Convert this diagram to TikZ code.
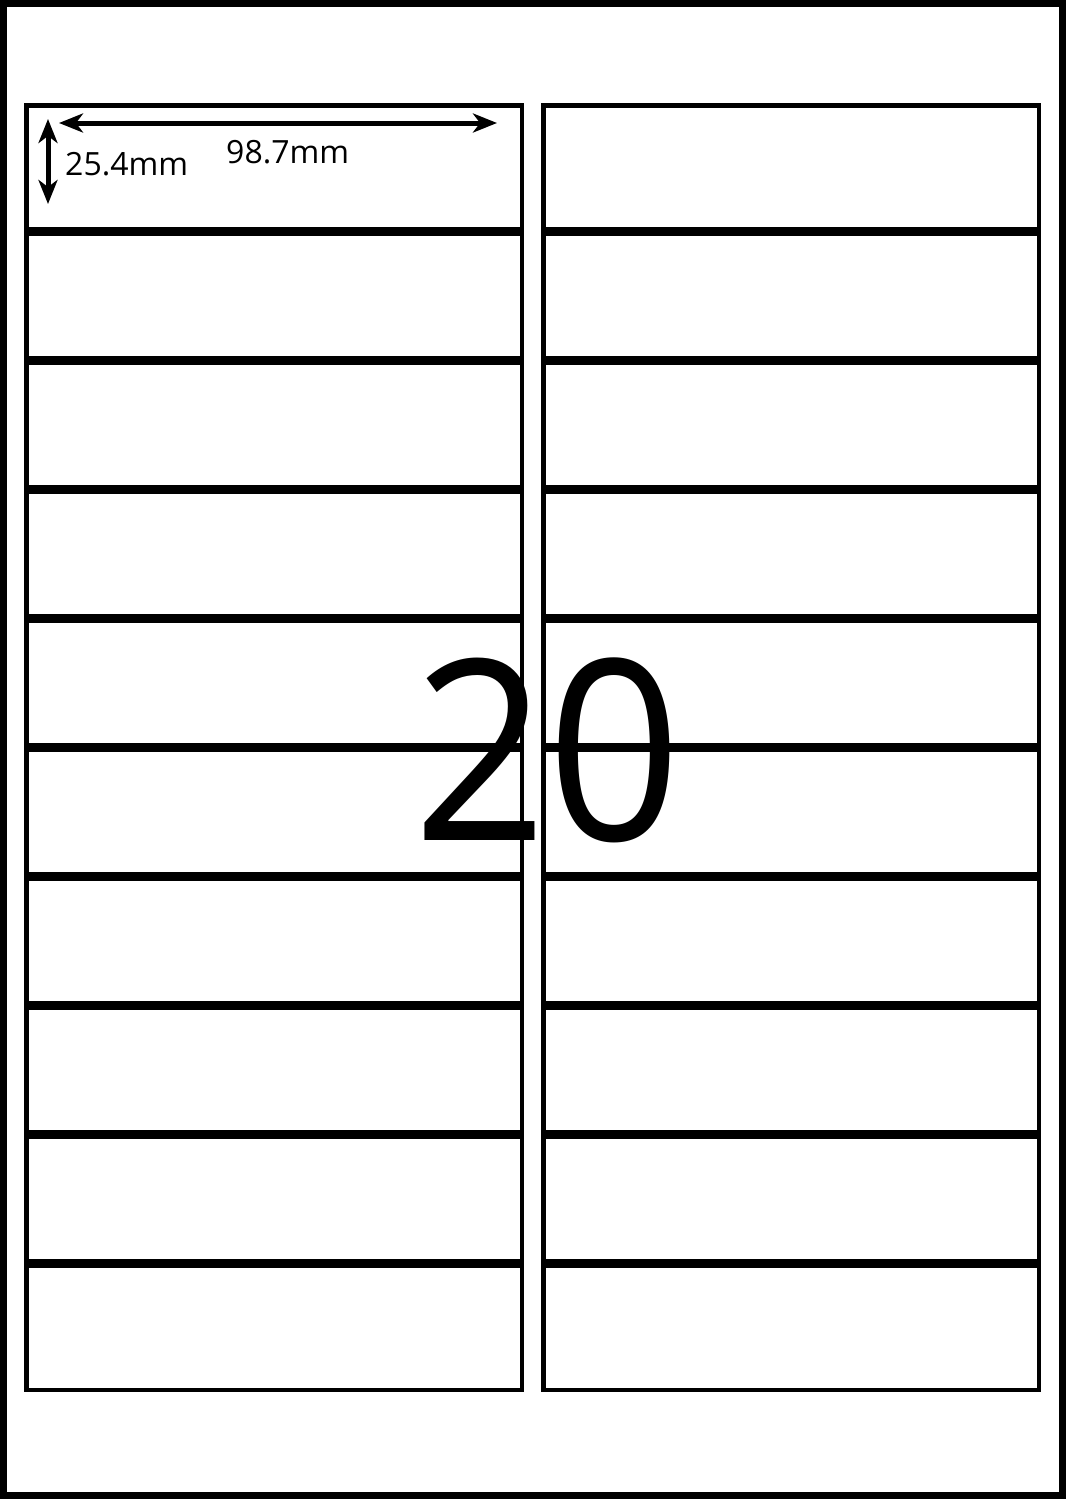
\documentclass[tikz,border=0pt]{standalone}
\usepackage{fontspec}
\setmainfont{Open Sans}
\usetikzlibrary{arrows.meta}
\begin{document}
\begin{tikzpicture}[x=1pt,y=-1pt,
  labelbox/.style={draw=black,line width=4.5pt,rectangle,inner sep=0pt,
    minimum width=495.5pt,minimum height=124.4pt},
  dimtip/.style={Stealth[length=24pt,width=19pt,inset=7pt]},
  dimarrow/.style={line width=5pt,{Stealth[length=24pt,width=19pt,inset=7pt]}-{Stealth[length=24pt,width=19pt,inset=7pt]}},
  dimtext/.style={inner sep=0pt,anchor=base west,font=\fontsize{32}{36}\selectfont},
  bignum/.style={inner sep=0pt,anchor=base,font=\fontsize{252}{260}\selectfont}
]
\useasboundingbox (0,0) rectangle (1066,1499);
\node[draw=black,line width=7pt,rectangle,inner sep=0pt,minimum width=1059pt,minimum height=1492pt] (page) at (533,749.5) {};
\foreach \i in {0,...,9}{
  \pgfmathsetmacro{\cy}{103+128.9*\i+64.45}
  \node[labelbox] (L\i) at (274,\cy) {};
  \node[labelbox] (R\i) at (791,\cy) {};
}
\coordinate (va) at (48,119);
\coordinate (vb) at (48,204);
\coordinate (ha) at (59,123);
\coordinate (hb) at (497,123);
\draw[dimarrow] (va) -- (vb);
\draw[dimarrow] (ha) -- (hb);
\node[dimtext] (hlabel) at (65,175) {25.4mm};
\node[dimtext] (wlabel) at (226,163) {98.7mm};
\node[bignum] (count) at (547,840) {\scalebox{0.93}[1]{20}};
\end{tikzpicture}
\end{document}
